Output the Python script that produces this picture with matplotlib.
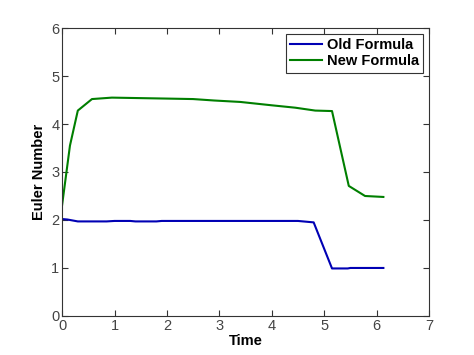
import numpy as np
import matplotlib
matplotlib.use('Agg')
from matplotlib import pyplot as plt

plt.rcParams['font.family'] = ['Liberation Sans', 'DejaVu Sans']

# values
old_t = [0.0, 0.1, 0.3, 0.85, 1.0, 1.3, 1.4, 1.8, 1.9, 2.5, 3.0, 3.5, 4.0, 4.5, 4.8, 5.15, 5.45, 5.5, 6.13]
old_e = [2.02, 2.01, 1.97, 1.97, 1.98, 1.98, 1.97, 1.97, 1.98, 1.98, 1.98, 1.98, 1.98, 1.98, 1.95, 0.99, 0.99, 1.0, 1.0]

new_t = [0.0, 0.15, 0.3, 0.57, 0.95, 2.0, 2.5, 2.9, 3.4, 4.0, 4.45, 4.83, 5.15, 5.47, 5.78, 6.13]
new_e = [2.31, 3.55, 4.28, 4.52, 4.55, 4.53, 4.52, 4.49, 4.46, 4.39, 4.34, 4.28, 4.27, 2.71, 2.50, 2.48]

fig = plt.figure(figsize=(4.74, 3.55), dpi=100)
ax = fig.add_axes([0.131, 0.110, 0.774, 0.811])
ax.plot(old_t, old_e, color='#0000b4', linewidth=1.5, label='Old Formula')
ax.plot(new_t, new_e, color='#007f00', linewidth=1.5, label='New Formula')

ax.set_xlim(0, 7)
ax.set_ylim(0, 6)
ax.set_xticks(range(0, 8))
ax.set_yticks(range(0, 7))
ax.tick_params(direction='in', top=True, right=True, labelsize=10.5, length=4, pad=2,
               colors='#333333', labelcolor='#444444')
for s in ax.spines.values():
    s.set_color('#333333')
ax.set_xlabel('Time', fontweight='bold', fontsize=10.5, labelpad=1)
ax.set_ylabel('Euler Number', fontweight='bold', fontsize=10.5, labelpad=4)

leg = ax.legend(loc='upper right', fancybox=False, framealpha=1, edgecolor='#333333',
                prop={'weight': 'bold', 'size': 10.5}, handlelength=2.2, borderaxespad=0.4,
                handletextpad=0.3, borderpad=0.3, labelspacing=0.15)
leg.get_frame().set_linewidth(0.8)

fig.savefig('out.png', dpi=100)
